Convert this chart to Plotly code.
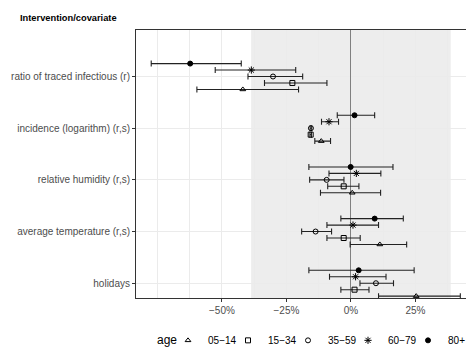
import plotly.graph_objects as go

categories = ["ratio of traced infectious (r)", "incidence (logarithm) (r,s)",
              "relative humidity (r,s)", "average temperature (r,s)", "holidays"]
cat_pos = [5, 4, 3, 2, 1]

ages = ["05−14", "15−34", "35−59", "60−79", "80+"]
age_offset = [-0.25, -0.125, 0.0, 0.125, 0.25]
symbols = ["triangle-up-open", "square-open", "circle-open", "asterisk-open", "circle"]

est_0514 = [-41.9, -11.5, 0.5, 11.2, 25.3]
lo_0514 = [-59.7, -14.0, -11.8, -0.3, 10.7]
hi_0514 = [-20.3, -7.9, 11.5, 21.6, 42.4]

est_1534 = [-22.7, -15.6, -2.8, -2.8, 1.4]
lo_1534 = [-33.5, -15.9, -9.0, -9.3, -3.9]
hi_1534 = [-9.3, -15.3, 3.1, 3.6, 7.0]

est_3559 = [-30.2, -15.5, -9.4, -13.7, 9.7]
lo_3559 = [-39.9, -15.8, -16.0, -19.1, 3.5]
hi_3559 = [-18.7, -15.2, -2.7, -7.5, 16.5]

est_6079 = [-38.6, -8.5, 2.1, 0.8, 1.8]
lo_6079 = [-52.6, -11.4, -8.5, -9.3, -8.3]
hi_6079 = [-21.4, -4.8, 11.6, 10.7, 13.6]

est_80 = [-62.3, 1.4, -0.1, 9.2, 3.0]
lo_80 = [-77.4, -5.3, -16.3, -3.9, -16.3]
hi_80 = [-42.5, 9.2, 16.3, 20.3, 24.5]

series = [(est_0514, lo_0514, hi_0514), (est_1534, lo_1534, hi_1534),
          (est_3559, lo_3559, hi_3559), (est_6079, lo_6079, hi_6079),
          (est_80, lo_80, hi_80)]

x_tickvals = [-50, -25, 0, 25]
x_ticktext = ["−50%", "−25%", "0%", "25%"]
x_minor = [-75, -62.5, -37.5, -12.5, 12.5, 37.5]
shade_limit = 38.7

fig = go.Figure()
for name, off, sym, (est, lo, hi) in zip(ages, age_offset, symbols, series):
    fig.add_trace(go.Scatter(
        x=est, y=[p + off for p in cat_pos], mode="markers", name=name,
        cliponaxis=False,
        marker=dict(symbol=sym, size=5 if sym != "asterisk-open" else 6,
                    color="black", line=dict(color="black", width=1)),
        error_x=dict(type="data", symmetric=False,
                     array=[h - e for h, e in zip(hi, est)],
                     arrayminus=[e - l for e, l in zip(est, lo)],
                     color="#222222", thickness=1.1, width=3),
    ))

fig.add_shape(type="rect", xref="x", yref="paper", x0=-shade_limit, x1=shade_limit,
              y0=0, y1=1, fillcolor="rgba(0,0,0,0.07)", line=dict(width=0), layer="below")

legend_y = -0.158

fig.update_layout(
    width=474, height=355,
    margin=dict(l=128, r=16, t=22, b=64.5, autoexpand=False),
    plot_bgcolor="white", paper_bgcolor="white",
    font=dict(family="Liberation Sans, Arial, sans-serif", size=10, color="#4d4d4d"),
    showlegend=True,
    legend=dict(orientation="h", x=0.097, xanchor="left", y=legend_y, yanchor="middle",
                bgcolor="rgba(0,0,0,0)",
                font=dict(size=10, color="black"), itemwidth=30,
                entrywidth=15, entrywidthmode="pixels"),
    annotations=[
        dict(text="<b>Intervention/covariate</b>", xref="paper", yref="paper",
             x=-118/330, y=1 + 12/268.5, xanchor="left", yanchor="middle",
             showarrow=False, font=dict(size=9.3, color="black")),
        dict(text="age", xref="paper", yref="paper", x=19/330, y=legend_y,
             xanchor="left", yanchor="middle", showarrow=False,
             font=dict(size=12, color="black")),
    ],
)
fig.update_xaxes(range=[-83.3, 44.6], tickvals=x_tickvals, ticktext=x_ticktext,
                 automargin=False,
                 showgrid=True, gridcolor="#ebebeb", gridwidth=1,
                 minor=dict(tickvals=x_minor, showgrid=True, gridcolor="#ebebeb", gridwidth=0.6),
                 zeroline=True, zerolinecolor="#808080", zerolinewidth=1.3,
                 showline=True, mirror=True, linecolor="#333333", linewidth=1,
                 ticks="outside", ticklen=3, tickcolor="#333333",
                 tickfont=dict(size=10, color="#4d4d4d"))
fig.update_yaxes(range=[0.714, 5.9], tickvals=cat_pos, ticktext=categories,
                 automargin=False,
                 showgrid=True, gridcolor="#ebebeb", gridwidth=1, zeroline=False,
                 showline=True, mirror=True, linecolor="#333333", linewidth=1,
                 ticks="outside", ticklen=3, tickcolor="#333333",
                 tickfont=dict(size=10, color="#4d4d4d"))

fig.write_html("out.html")
